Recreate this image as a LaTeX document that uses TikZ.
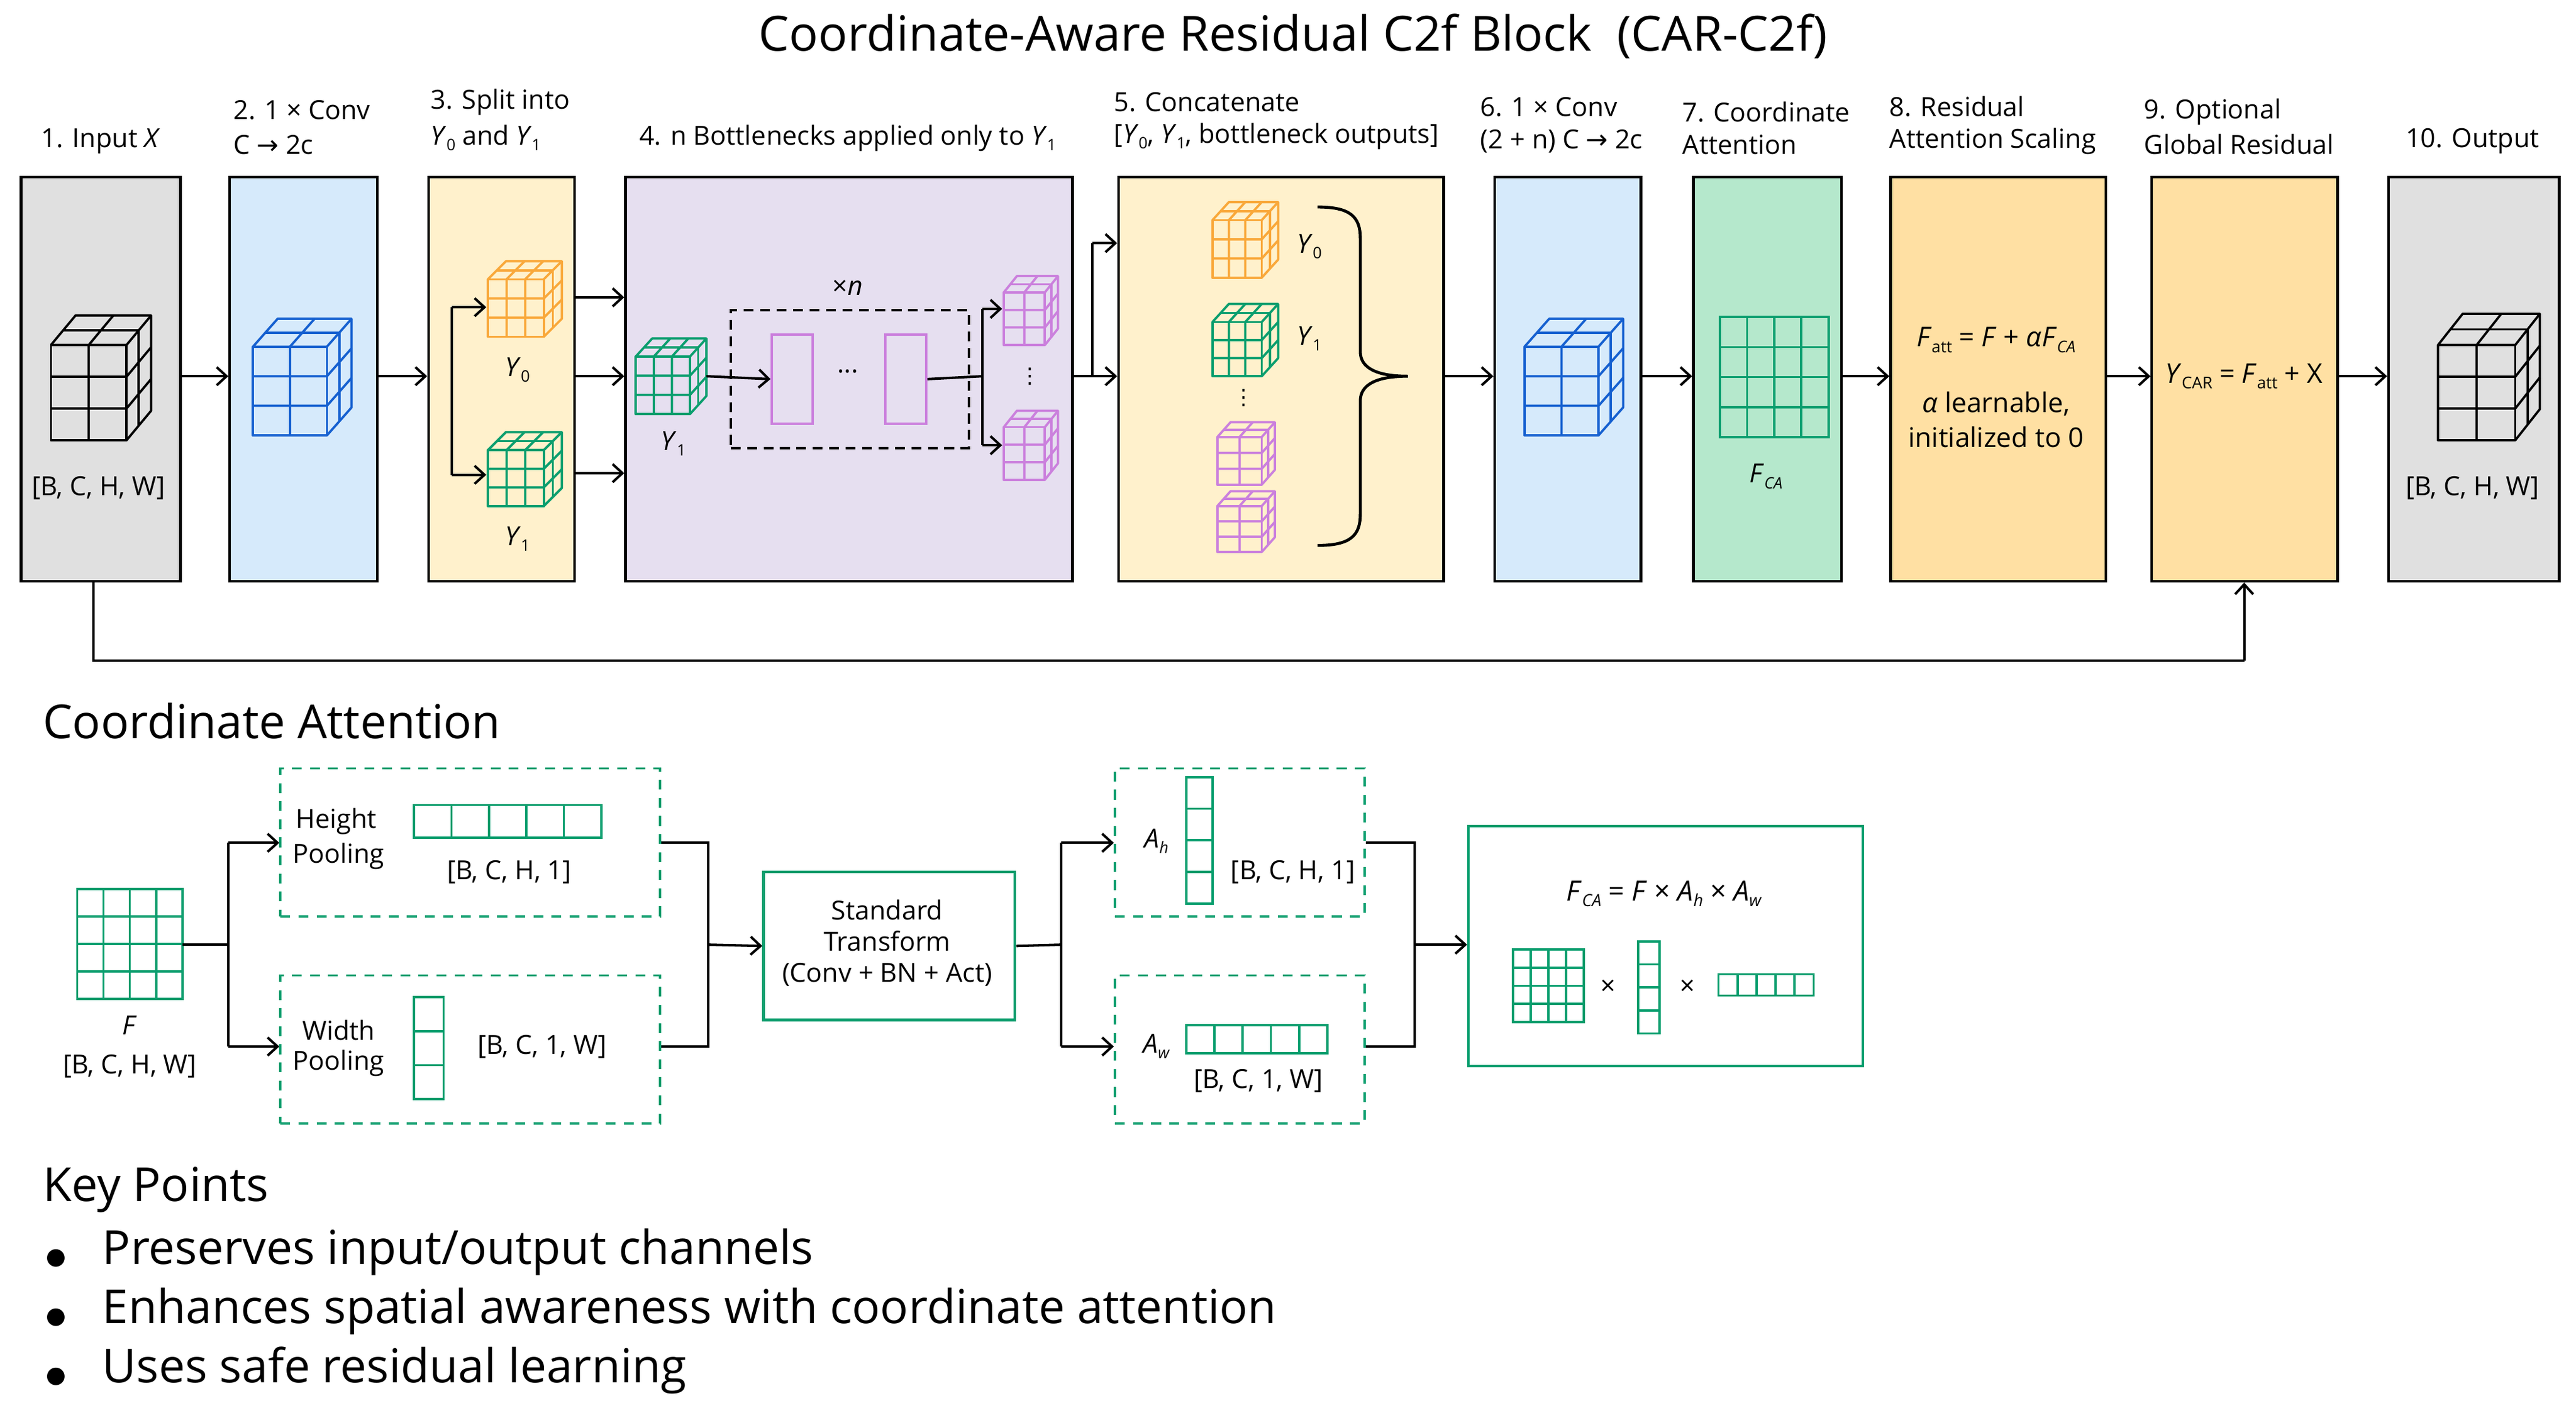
\documentclass[tikz,border=0pt]{standalone}
\usepackage{fontspec}
\setmainfont{Open Sans}
\newfontfamily\dv{DejaVu Sans}
\usetikzlibrary{arrows.meta}
\definecolor{cgray}{HTML}{E0E0E0}
\definecolor{cblue}{HTML}{D6EAFB}
\definecolor{cyel}{HTML}{FFF1CC}
\definecolor{clav}{HTML}{E6DFF0}
\definecolor{cmint}{HTML}{B5E8CC}
\definecolor{corg}{HTML}{FFE0A3}
\definecolor{gr}{HTML}{0A9E6E}
\definecolor{og}{HTML}{F9A83A}
\definecolor{pu}{HTML}{CB80DD}
\definecolor{bl}{HTML}{1560D0}
\newcommand\mysub[1]{\raisebox{-0.4ex}{\scalebox{0.6}{#1}}}
\newcommand\gcube[9]{%
 \begin{scope}[draw=#9, line width=1.4pt, line join=round]
 \draw (#1,#2) rectangle ++(#3,#4);
 \draw (#1,#2) -- ++(#5,#6) -- ++(#3,0) -- ++(0,#4) -- ++(-#5,-#6);
 \draw (#1+#3,#2) -- ++(#5,#6);
 \draw (#1+0.5*#5,#2+0.5*#6) -- ++(#3,0) -- ++(0,#4);
 \pgfmathtruncatemacro\cmo{#7-1}\pgfmathtruncatemacro\rmo{#8-1}
 \foreach \i in {1,...,\cmo}{\draw (#1+\i*#3/#7,#2+#4) -- (#1+\i*#3/#7,#2) -- ++(#5,#6);}
 \foreach \j in {1,...,\rmo}{\draw (#1,#2+\j*#4/#8) -- (#1+#3,#2+\j*#4/#8) -- ++(#5,#6);}
 \end{scope}}
\newcommand\ggrid[7]{%
 \begin{scope}[draw=#7, line width=1.4pt]
 \draw (#1,#2) rectangle ++(#3,#4);
 \pgfmathtruncatemacro\cmo{#5-1}\pgfmathtruncatemacro\rmo{#6-1}
 \ifnum\cmo>0 \foreach \i in {1,...,\cmo}{\draw (#1+\i*#3/#5,#2) -- ++(0,#4);}\fi
 \ifnum\rmo>0 \foreach \j in {1,...,\rmo}{\draw (#1,#2+\j*#4/#6) -- ++(#3,0);}\fi
 \end{scope}}
\begin{document}
\begin{tikzpicture}[x=1pt,y=-1pt,
 box/.style={draw=black, line width=1.6pt, inner sep=0pt, anchor=north west},
 arr/.style={line width=1.5pt, -{Straight Barb[length=6pt,width=11pt,line width=1.5pt]}},
 ln/.style={line width=1.5pt},
 t/.style={font=\fontsize{16}{19}\selectfont, inner sep=0pt},
 tl/.style={t, anchor=west},
 dbox/.style={draw=gr, line width=1.4pt, dash pattern=on 6pt off 5pt, inner sep=0pt, anchor=north west},
 gbox/.style={draw=gr, line width=1.6pt, inner sep=0pt, anchor=north west},
 big/.style={font=\fontsize{28.5}{33}\selectfont, inner sep=0pt, anchor=west}]
\useasboundingbox (0,0) rectangle (1568,857);
\node[font=\fontsize{29.5}{34}\selectfont, inner sep=0pt] (title) at (787,22) {Coordinate-Aware Residual C2f Block\ \ (CAR-C2f)};
% boxes
\node[box, fill=cgray, minimum width=97pt, minimum height=246pt] (b1) at (12,107) {};
\node[box, fill=cblue, minimum width=90pt, minimum height=246pt] (b2) at (139,107) {};
\node[box, fill=cyel, minimum width=89pt, minimum height=246pt] (b3) at (260,107) {};
\node[box, fill=clav, minimum width=272pt, minimum height=246pt] (b4) at (380,107) {};
\node[box, fill=cyel, minimum width=198pt, minimum height=246pt] (b5) at (680,107) {};
\node[box, fill=cblue, minimum width=89pt, minimum height=246pt] (b6) at (909,107) {};
\node[box, fill=cmint, minimum width=90pt, minimum height=246pt] (b7) at (1030,107) {};
\node[box, fill=corg, minimum width=131pt, minimum height=246pt] (b8) at (1150,107) {};
\node[box, fill=corg, minimum width=113pt, minimum height=246pt] (b9) at (1309,107) {};
\node[box, fill=cgray, minimum width=104pt, minimum height=246pt] (b10) at (1453,107) {};
% labels
\node[tl] (l1) at (25,86) {1. Input \textit{X}};
\node[tl] (l2a) at (142,67) {2. 1 × Conv};
\node[tl] (l2b) at (142,88) {C {\dv→} 2c};
\node[tl] (l3a) at (262,62) {3. Split into};
\node[tl] (l3b) at (262,84) {\textit{Y}\mysub{0} and \textit{Y}\mysub{1}};
\node[t] (l4) at (516,84) {4. n Bottlenecks applied only to \textit{Y}\mysub{1}};
\node[tl] (l5a) at (678,62) {5. Concatenate};
\node[tl] (l5b) at (678,83) {[\textit{Y}\mysub{0}, \textit{Y}\mysub{1}, bottleneck outputs]};
\node[tl] (l6a) at (901,65) {6. 1 × Conv};
\node[tl] (l6b) at (901,86) {(2 + n) C {\dv→} 2c};
\node[tl] (l7a) at (1024,68) {7. Coordinate};
\node[tl] (l7b) at (1024,88) {Attention};
\node[tl] (l8a) at (1150,65) {8. Residual};
\node[tl] (l8b) at (1150,86) {Attention Scaling};
\node[tl] (l9a) at (1305,68) {9. Optional};
\node[tl] (l9b) at (1305,88) {Global Residual};
\node[t] (l10) at (1505,86) {10. Output};
% box 1
\gcube{31}{210}{46}{58}{15}{-18}{2}{3}{black}
\node[t] (s1) at (60,297) {[B, C, H, W]};
% box 2
\gcube{154}{211}{45}{54}{15}{-17}{2}{3}{bl}
% box 3
\gcube{297}{170}{34}{35}{11}{-11}{3}{3}{og}
\gcube{297}{274}{34}{34}{11}{-11}{3}{3}{gr}
\node[t] (y0a) at (315,225) {\textit{Y}\mysub{0}};
\node[t] (y1a) at (315,328) {\textit{Y}\mysub{1}};
\coordinate (sp0) at (275,187); \coordinate (sp1) at (275,289);
\coordinate (sc0) at (296,187); \coordinate (sc1) at (296,289);
\draw[ln] (sp0) -- (sp1);
\draw[arr] (sp0) -- (sc0);
\draw[arr] (sp1) -- (sc1);
% box 4
\gcube{387}{217}{33}{35}{10}{-11}{3}{3}{gr}
\node[t] (y1b) at (410,270) {\textit{Y}\mysub{1}};
\node[draw=black, line width=1.5pt, dash pattern=on 6pt off 4pt, inner sep=0pt, anchor=north west, minimum width=145pt, minimum height=84pt] (dx) at (444,188) {};
\node[t] (xn) at (516,175) {×\textit{n}};
\node[draw=pu, line width=1.5pt, inner sep=0pt, anchor=north west, minimum width=25pt, minimum height=54pt] (r1) at (469,203) {};
\node[draw=pu, line width=1.5pt, inner sep=0pt, anchor=north west, minimum width=25pt, minimum height=54pt] (r2) at (538,203) {};
\node[t] (dots) at (516,226) {...};
\coordinate (cb) at (430,229);
\draw[arr] (cb) -- (r1.west);
\coordinate (bj) at (598,229); \coordinate (bj0) at (598,188); \coordinate (bj1) at (598,271);
\draw[ln] (r2.east) -- (bj);
\draw[ln] (bj0) -- (bj1);
\coordinate (pc0) at (610,188); \coordinate (pc1) at (610,271);
\draw[arr] (bj0) -- (pc0);
\draw[arr] (bj1) -- (pc1);
\gcube{611}{178}{25}{32}{8}{-10}{2}{3}{pu}
\gcube{611}{260}{25}{32}{8}{-10}{2}{3}{pu}
\node[t, font=\dv\fontsize{13}{15}\selectfont] (vd) at (627,229) {⋮};
% between boxes
\coordinate (m34a) at (349,181); \coordinate (m34b) at (349,229); \coordinate (m34c) at (349,288);
\coordinate (n34a) at (380,181); \coordinate (n34b) at (380,229); \coordinate (n34c) at (380,288);
\draw[arr] (m34a) -- (n34a);
\draw[arr] (m34b) -- (n34b);
\draw[arr] (m34c) -- (n34c);
\draw[arr] (b1.east |- 0,229) -- (b2.west |- 0,229);
\draw[arr] (b2.east |- 0,229) -- (b3.west |- 0,229);
\coordinate (j45) at (665,229); \coordinate (j45t) at (665,148);
\draw[ln] (b4.east |- 0,229) -- (j45) -- (j45t);
\draw[arr] (j45t) -- (b5.west |- 0,148);
\draw[arr] (j45) -- (b5.west |- 0,229);
\draw[arr] (b5.east |- 0,229) -- (b6.west |- 0,229);
\draw[arr] (b6.east |- 0,229) -- (b7.west |- 0,229);
\draw[arr] (b7.east |- 0,229) -- (b8.west |- 0,229);
\draw[arr] (b8.east |- 0,229) -- (b9.west |- 0,229);
\draw[arr] (b9.east |- 0,229) -- (b10.west |- 0,229);
% box 5
\gcube{738}{134}{30}{35}{10}{-11}{3}{3}{og}
\gcube{738}{196}{30}{33}{10}{-11}{3}{3}{gr}
\node[t] (y0c) at (797,150) {\textit{Y}\mysub{0}};
\node[t] (y1c) at (797,206) {\textit{Y}\mysub{1}};
\node[t, font=\dv\fontsize{13}{15}\selectfont] (vd2) at (757,242) {⋮};
\gcube{741}{266}{27}{29}{8}{-9}{2}{3}{pu}
\gcube{741}{308}{27}{28}{8}{-9}{2}{3}{pu}
\draw[line width=1.8pt] (802,126) .. controls (822,126) and (828,132) .. (828,145) -- (828,214) .. controls (828,224) and (838,229) .. (857,229) .. controls (838,229) and (828,234) .. (828,244) -- (828,313) .. controls (828,326) and (822,332) .. (802,332);
% box 6
\gcube{928}{211}{45}{54}{15}{-17}{2}{3}{bl}
% box 7
\ggrid{1047}{193}{66}{73}{4}{4}{gr}
\node[t] (fca) at (1075,290) {\textit{F}\mysub{\textit{CA}}};
% box 8
\node[t, font=\fontsize{16.5}{19}\selectfont] (e8) at (1215,207) {\textit{F}\mysub{att} = \textit{F} + \textit{αF}\mysub{\textit{CA}}};
\node[t, font=\fontsize{16.5}{19}\selectfont] (e8b) at (1215,246) {\textit{α} learnable,};
\node[t, font=\fontsize{16.5}{19}\selectfont] (e8c) at (1215,266) {initialized to 0};
% box 9
\node[t, font=\fontsize{16.5}{19}\selectfont] (e9) at (1366,229) {\textit{Y}\mysub{CAR} = \textit{F}\mysub{att} + X};
% box 10
\gcube{1484}{210}{47}{58}{15}{-19}{2}{3}{black}
\node[t] (s10) at (1505,297) {[B, C, H, W]};
% residual
\coordinate (rr1) at (57,402); \coordinate (rr2) at (1366,402);
\draw[ln] (b1.south -| 57,0) -- (rr1) -- (rr2);
\draw[arr] (rr2) -- (b9.south -| 1366,0);
% ===== Coordinate attention
\node[big] (cat) at (26,439) {Coordinate Attention};
\ggrid{47}{541}{64}{67}{4}{4}{gr}
\coordinate (fr) at (111,575);
\node[t] (fl) at (79,624) {\textit{F}};
\node[t] (fs) at (79,649) {[B, C, H, W]};
\node[dbox, minimum width=231pt, minimum height=90pt] (hp) at (170,467) {};
\node[dbox, minimum width=231pt, minimum height=90pt] (wp) at (170,593) {};
\node[tl] (hpt1) at (180,500) {Height};
\node[tl] (hpt2) at (178,521) {Pooling};
\ggrid{252}{490}{114}{20}{5}{1}{gr}
\node[t] (hps) at (310,531) {[B, C, H, 1]};
\node[tl] (wpt1) at (184,627) {Width};
\node[tl] (wpt2) at (178,647) {Pooling};
\ggrid{252}{607}{18}{62}{1}{3}{gr}
\node[t] (wps) at (330,637) {[B, C, 1, W]};
\coordinate (j1) at (139,575); \coordinate (j1a) at (139,513); \coordinate (j1b) at (139,637);
\draw[ln] (fr) -- (j1); \draw[ln] (j1a) -- (j1b);
\draw[arr] (j1a) -- (hp.west |- 0,513);
\draw[arr] (j1b) -- (wp.west |- 0,637);
\coordinate (j2a) at (431,513); \coordinate (j2b) at (431,637); \coordinate (j2) at (431,575);
\draw[ln] (hp.east |- 0,513) -- (j2a) -- (j2b) -- (wp.east |- 0,637);
\node[gbox, minimum width=153pt, minimum height=90pt] (st) at (464,530) {};
\draw[arr] (j2) -- (st.west);
\node[t, align=center] (stt) at (540,574) {Standard\\Transform\\(Conv + BN + Act)};
\node[dbox, minimum width=152pt, minimum height=90pt] (ah) at (678,467) {};
\node[dbox, minimum width=152pt, minimum height=90pt] (aw) at (678,593) {};
\coordinate (j3a) at (646,513); \coordinate (j3b) at (646,637); \coordinate (j3) at (646,575);
\draw[ln] (st.east) -- (j3); \draw[ln] (j3a) -- (j3b);
\draw[arr] (j3a) -- (ah.west |- 0,513);
\draw[arr] (j3b) -- (aw.west |- 0,637);
\node[t] (aht) at (704,512) {\textit{A}\mysub{\textit{h}}};
\ggrid{722}{473}{16}{77}{1}{4}{gr}
\node[t] (ahs) at (787,531) {[B, C, H, 1]};
\node[t] (awt) at (704,637) {\textit{A}\mysub{\textit{w}}};
\ggrid{722}{624}{86}{17}{5}{1}{gr}
\node[t] (aws) at (766,658) {[B, C, 1, W]};
\coordinate (j4a) at (861,513); \coordinate (j4b) at (861,637); \coordinate (j4) at (861,575);
\draw[ln] (ah.east |- 0,513) -- (j4a) -- (j4b) -- (aw.east |- 0,637);
\node[gbox, minimum width=240pt, minimum height=146pt] (fin) at (893,502) {};
\draw[arr] (j4) -- (fin.west |- 0,575);
\node[t, font=\fontsize{17}{19}\selectfont] (fe) at (1013,544) {\textit{F}\mysub{\textit{CA}} = \textit{F} × \textit{A}\mysub{\textit{h}} × \textit{A}\mysub{\textit{w}}};
\ggrid{921}{578}{43}{44}{4}{4}{gr}
\node[t] (x1) at (979,601) {×};
\ggrid{997}{573}{13}{56}{1}{4}{gr}
\node[t] (x2) at (1027,601) {×};
\ggrid{1046}{593}{58}{13}{5}{1}{gr}
% key points
\node[big] (kp) at (26,724) {Key Points};
\node[big] (k1) at (28,762) {{\dv\fontsize{14}{18}\selectfont●}\hspace{22pt}Preserves input/output channels};
\node[big] (k2) at (28,798) {{\dv\fontsize{14}{18}\selectfont●}\hspace{22pt}Enhances spatial awareness with coordinate attention};
\node[big] (k3) at (28,834) {{\dv\fontsize{14}{18}\selectfont●}\hspace{22pt}Uses safe residual learning};
\end{tikzpicture}
\end{document}
